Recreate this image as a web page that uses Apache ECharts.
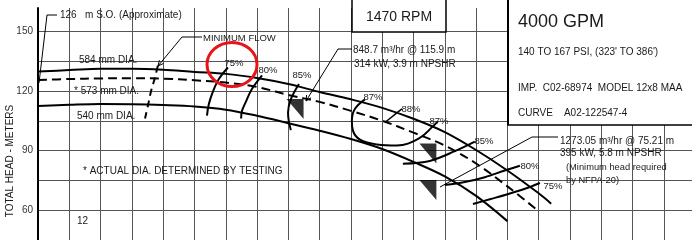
<!DOCTYPE html>
<html><head><meta charset="utf-8">
<script src="https://cdn.jsdelivr.net/npm/echarts@6/dist/echarts.min.js"></script>
<style>html,body{margin:0;padding:0;background:#fff}#c{width:692px;height:240px}</style>
</head><body><div id="c"></div><script>
const FONT = '"Liberation Sans", Arial, sans-serif';

// Y tick labels shown (m)
const yLabels = [60, 90, 120, 150];

// Head curves [flow m3/hr, head m]
const head584 = [[0,129.8],[100,130.5],[200,131.2],[300,131.2],[400,130.7],[500,129.6],[600,128.6],[700,126.5],[800,123.5],[900,119.5],[1000,115.8],[1100,111.5],[1200,106],[1300,99.3],[1400,90.3],[1500,80],[1600,68.5],[1640,63.3]];
const head573 = [[0,125.5],[100,126],[200,126.3],[300,126.4],[400,126.2],[500,125.4],[600,124.2],[700,122],[800,118],[900,114.5],[1000,110],[1100,105],[1200,99],[1300,92.5],[1400,83.5],[1500,72],[1600,59.5]];
const head540 = [[0,112.4],[100,113],[200,113.4],[300,113.3],[400,112.9],[500,112.2],[600,110.6],[700,107.5],[800,103.8],[900,100],[1000,95.8],[1100,90.8],[1200,84.3],[1300,77],[1400,67.2],[1500,54.5]];

// Efficiency contours
const eff75L = [[607,131.8],[578,126.0],[559,119.7],[546,113.4],[540,107.6]];
const eff80L = [[716,127.9],[684,121.1],[665,114.8],[652,110.0],[649,106.1]];
const eff85L = [[834,123.5],[808,115.8],[799,109.0],[802,104.2],[808,100.3]];
const eff87  = [[1045,115.8],[1013,111.0],[1003,105.1],[1006,100.3],[1029,95.5],[1083,93.1],[1147,92.6],[1220,96.4],[1262,102.2],[1278,104.7]];
const eff88  = [[1163,111.0],[1136,107.6],[1109,104.2]];
const eff85R = [[1166,83.4],[1252,84.8],[1332,89.7],[1396,94.5]];
const eff80R = [[1300,72.7],[1364,74.2],[1428,76.6],[1492,80.0],[1540,82.4]];
const eff75R = [[1390,63.1],[1444,65.5],[1498,67.9],[1556,70.8],[1604,73.7]];
const minFlow = [[383,132.7],[374,126.9],[361,119.7],[351,112.4],[342,106.1]];

// Rated / NFPA points
const markerPts = [[848.7,115.9],[1273.05,93.5],[1273.05,75.21]];

const chart = echarts.init(document.getElementById('c'), null, {renderer:'canvas'});

function lineSeries(data, opts) {
  return Object.assign({
    type:'line', data, showSymbol:false, symbol:'none', smooth:0.35, silent:true,
    lineStyle:{color:'#000', width:2}, z:3
  }, opts || {});
}

function txt(text, x, y, size, align, extra) {
  return Object.assign({
    type:'text', x, y, z:120,
    style:{text, fill:'#1a1a1a', font: (size||10) + 'px ' + FONT,
      textAlign: align||'left', align: align||'left',
      textVerticalAlign:'middle', verticalAlign:'middle'}
  }, extra || {});
}
function poly(points, w) {
  return {type:'polyline', z:110, shape:{points}, style:{stroke:'#000', lineWidth:w||1, fill:null}};
}
function arrow(tip, from, len, ang) {
  len = len || 6; ang = ang || 0.45;
  const a = Math.atan2(from[1]-tip[1], from[0]-tip[0]);
  const p1 = [tip[0] + len*Math.cos(a+ang), tip[1] + len*Math.sin(a+ang)];
  const p2 = [tip[0] + len*Math.cos(a-ang), tip[1] + len*Math.sin(a-ang)];
  return poly([p1, tip, p2], 1);
}

const gridColors = ['#555','#555','#555','#555','#555','#555','#555','#555','rgba(0,0,0,0)'];

const option = {
  animation:false,
  backgroundColor:'#fff',
  grid:{left:38, right:0, top:8, bottom:-9.3, containLabel:false},
  xAxis:{type:'value', min:0, max:2090, interval:100,
    axisLine:{show:false}, axisTick:{show:false}, axisLabel:{show:false},
    splitLine:{show:true, lineStyle:{color:'#555', width:1}}},
  yAxis:{type:'value', min:45, max:161.75, interval:15,
    axisLine:{show:true, lineStyle:{color:'#000', width:2}},
    axisTick:{show:false},
    axisLabel:{color:'#333', fontSize:10, fontFamily:FONT, margin:5,
      formatter: v => yLabels.includes(v) ? String(v) : ''},
    splitLine:{show:true, lineStyle:{color:gridColors, width:1}}},
  series:[
    lineSeries(head584),
    lineSeries(head573, {lineStyle:{color:'#000', width:2, type:[9,5]}}),
    lineSeries(head540),
    lineSeries(eff75L), lineSeries(eff80L), lineSeries(eff85L),
    lineSeries(eff87, {smooth:0.4}), lineSeries(eff88, {lineStyle:{color:'#000', width:1.5}}),
    lineSeries(eff85R), lineSeries(eff80R), lineSeries(eff75R),
    lineSeries(minFlow, {lineStyle:{color:'#000', width:2, type:[7,5]}}),
    {type:'scatter', data:markerPts, silent:true, z:5,
     symbol:'path://M0,0L17,0L17,20Z', symbolSize:[17,20], symbolOffset:[-8.5,10],
     itemStyle:{color:'#000'}}
  ],
  graphic:[
    // boxes
    {type:'rect', z:100, shape:{x:352, y:-3, width:94, height:35}, style:{fill:'#fff', stroke:'#000', lineWidth:1.5}},
    txt('1470 RPM', 399, 17, 14, 'center'),
    {type:'rect', z:100, shape:{x:508, y:-3, width:190, height:128}, style:{fill:'#fff', stroke:'#000', lineWidth:1.5}},
    {type:'line', z:101, shape:{x1:508, y1:0, x2:508, y2:125}, style:{stroke:'#000', lineWidth:2}},
    txt('4000 GPM', 518, 22, 18),
    txt("140 TO 167 PSI, (323' TO 386')", 518, 52, 10),
    txt('IMP.  C02-68974  MODEL 12x8 MAA', 518, 88, 10),
    txt('CURVE    A02-122547-4', 518, 113, 10),
    // axis name
    txt('TOTAL HEAD - METERS', 10, 161, 10, 'center', {rotation:Math.PI/2}),
    // annotations
    txt('126   m S.O. (Approximate)', 60, 15, 10),
    poly([[57,15],[47,15],[39,83]]),
    txt('584 mm DIA.', 79, 60, 10),
    txt('* 573 mm DIA.', 74, 91, 10),
    txt('540 mm DIA.', 77, 116, 10),
    txt('MINIMUM FLOW', 203, 38, 9.5),
    poly([[202,37],[182,37],[158,66]]), arrow([158,66],[182,37]),
    txt('75%', 234, 63, 9.5, 'center'),
    txt('80%', 268, 70, 9.5, 'center'),
    txt('85%', 302, 75, 9.5, 'center'),
    txt('848.7 m³/hr @ 115.9 m', 353, 50, 10),
    txt('314 kW, 3.9 m NPSHR', 354, 64, 10),
    poly([[352,49],[338,49],[306,101]]), arrow([306,101],[338,49]),
    txt('87%', 373, 97, 9.5, 'center'),
    txt('88%', 411, 109, 9.5, 'center'),
    txt('87%', 439, 121, 9.5, 'center'),
    txt('85%', 484, 141, 9.5, 'center'),
    txt('80%', 530, 166, 9.5, 'center'),
    txt('75%', 553, 186, 9.5, 'center'),
    txt('1273.05 m³/hr @ 75.21 m', 560, 141, 10),
    txt('395 kW, 5.8 m NPSHR', 560, 153, 10),
    txt('(Minimum head required', 566, 167, 9.3),
    txt('by NFPA-20)', 566, 180, 9.3),
    poly([[558,137],[532,137],[440,187]]),
    txt('* ACTUAL DIA. DETERMINED BY TESTING', 83, 171, 10),
    txt('12', 77, 221, 10),
    {type:'ellipse', z:115, shape:{cx:232, cy:64.5, rx:25, ry:22}, style:{fill:null, stroke:'#e8141b', lineWidth:3}}
  ]
};
chart.setOption(option);
</script></body></html>
